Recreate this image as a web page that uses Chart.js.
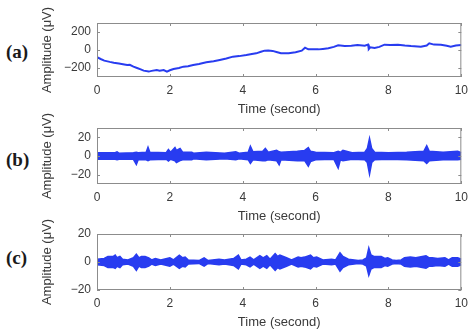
<!DOCTYPE html>
<html>
<head>
<meta charset="utf-8">
<script src="https://cdn.jsdelivr.net/npm/chart.js@4.4.1/dist/chart.umd.min.js"></script>
<style>
  body { margin: 0; background: #fff; width: 474px; height: 333px; overflow: hidden; position: relative; }
  canvas { position: absolute; left: 0; }
  .tag { position: absolute; left: 6px; font: 600 19px "Liberation Serif", serif; color: #1a1a1a; }
</style>
</head>
<body>
<div class="tag" style="top:41px">(a)</div>
<div class="tag" style="top:149px">(b)</div>
<div class="tag" style="top:247px">(c)</div>
<canvas id="CHART_A" width="474" height="120" style="top:0px"></canvas>
<canvas id="CHART_B" width="474" height="122" style="top:105px"></canvas>
<canvas id="CHART_C" width="474" height="122" style="top:211px"></canvas>
<script>
// tick labels and ranges
const xTicks = [0, 2, 4, 6, 8, 10];
const aTicks = [-200, 0, 200];
const bTicks = [-20, 0, 20];
const cTicks = [-20, 0, 20];
const aRange = [-300, 300];
const bRange = [-30, 30];
const cRange = [-20, 20];

// (a) raw signal, slow drift (µV)
const aTime = [0, 0.1, 0.2, 0.35, 0.46, 0.6, 0.75, 0.83, 0.9, 1.0, 1.1, 1.2, 1.28, 1.42, 1.5, 1.64, 1.72, 1.83, 1.92, 2.0,
  2.1, 2.25, 2.37, 2.5, 2.64, 2.8, 3.0, 3.2, 3.37, 3.55, 3.73, 3.9, 4.1, 4.25, 4.37, 4.5, 4.6, 4.7, 4.82, 4.95,
  5.05, 5.26, 5.45, 5.62, 5.71, 5.8, 6.08, 6.2, 6.35, 6.5, 6.62, 6.8, 6.98, 7.15, 7.35, 7.44, 7.46, 7.5, 7.62, 7.75,
  7.89, 8.05, 8.26, 8.45, 8.62, 8.89, 9.05, 9.12, 9.25, 9.44, 9.6, 9.71, 9.85, 10.0];
const aValue = [-80, -100, -118, -132, -141, -150, -160, -167, -165, -185, -200, -215, -229, -240, -232, -222, -230, -222, -240, -225,
  -211, -200, -185, -180, -167, -155, -137, -125, -111, -95, -74, -68, -56, -45, -37, -20, -7, -5, -10, -25,
  -37, -37, -25, -7, 26, 7, 7, 12, 19, 35, 52, 45, 48, 55, 48, 60, 11, 30, 22, 35,
  59, 55, 59, 50, 44, 37, 50, 74, 60, 59, 48, 37, 50, 55];

// (b) envelope of the filtered signal (µV)
const bTime = [0, 0.5, 0.55, 0.6, 1.0, 1.08, 1.13, 1.35, 1.4, 1.45, 1.9, 1.96, 2.02, 2.14, 2.18, 2.28, 2.35, 2.6, 2.65, 3.0,
  3.5, 3.81, 3.9, 4.15, 4.21, 4.28, 4.55, 4.62, 4.7, 4.93, 5.0, 5.05, 5.5, 5.7, 5.8, 5.86, 6.0, 6.5, 6.62, 6.68,
  6.75, 7.0, 7.35, 7.42, 7.48, 7.54, 7.62, 8.0, 8.5, 8.97, 9.05, 9.12, 9.5, 9.9, 10.0];
const bUpper = [3.5, 3.5, 4.5, 3, 3.5, 4, 3.5, 4, 9.5, 4, 3.5, 7, 4, 9, 6, 8, 4, 4, 3, 4,
  3, 4.5, 3, 4, 10.5, 4.5, 5, 8, 4, 6, 4.5, 4, 5, 6, 9, 5, 4, 3.5, 5, 4,
  6, 3.5, 4, 8, 19, 8, 4, 3.5, 4, 5, 11, 5, 4, 5, 3.5];
const bLower = [-3.5, -3.5, -4, -3.5, -3.5, -9, -4, -4, -5, -4, -3.5, -5.5, -3.5, -5, -7, -5, -4, -4, -3, -4,
  -3, -4, -3, -4, -8, -4, -5, -5, -4, -5, -9.5, -4, -5, -5, -11, -6, -4, -3.5, -13, -4,
  -5, -3.5, -4, -7, -19.5, -7, -4, -3.5, -4, -5, -8, -5, -4, -4, -3.5];

// (c) envelope of the cleaned signal (µV)
const cTime = [0, 0.2, 0.3, 0.45, 0.5, 0.55, 0.63, 0.7, 0.85, 1.0, 1.08, 1.15, 1.22, 1.32, 1.42, 1.5, 1.6, 1.75, 2.0, 2.1,
  2.26, 2.35, 2.42, 2.5, 2.8, 2.94, 3.05, 3.35, 3.5, 3.75, 3.88, 3.95, 4.1, 4.2, 4.3, 4.47, 4.56, 4.66, 4.75, 4.89,
  4.96, 5.02, 5.2, 5.34, 5.52, 5.6, 5.7, 5.86, 5.94, 6.03, 6.2, 6.44, 6.55, 6.67, 6.75, 6.9, 7.17, 7.3, 7.4, 7.46,
  7.52, 7.6, 7.8, 7.9, 7.98, 8.1, 8.21, 8.35, 8.44, 8.6, 8.75, 9.03, 9.12, 9.2, 9.35, 9.55, 9.65, 9.75, 9.9, 10.0];
const cUpper = [2, 2.5, 4, 4, 5, 3, 4, 2, 1.5, 3, 5.5, 3, 4, 4, 3, 1.5, 2.5, 1.5, 3, 1.5,
  4.8, 3, 3.5, 1.5, 1, 3, 1, 2, 1.5, 2.5, 5, 1.5, 2, 3.5, 1.5, 4.5, 3, 4.5, 2, 6,
  4, 5, 3, 1.5, 3.5, 3, 3.5, 5, 3, 3.5, 1.5, 2, 1.5, 6.5, 4, 2, 1, 1.5, 3, 10,
  5, 4, 4, 2.5, 3, 1.5, 1, 1.5, 3, 3.5, 3, 4.5, 3, 3, 2.5, 3, 1.5, 3, 3, 2];
const cLower = [-2, -2.5, -4, -4, -4.5, -3, -4, -2, -1.5, -3, -6, -3, -4, -4, -3, -1.5, -2.5, -1.5, -3, -1.5,
  -4.5, -3, -3.5, -1.5, -1, -3, -1, -2, -1.5, -2.5, -5, -1.5, -2, -3.5, -1.5, -4.5, -3, -4.5, -2, -6,
  -4, -5, -3, -1.5, -3.5, -3, -3.5, -5, -3, -3.5, -1.5, -2, -1.5, -6.5, -4, -2, -1, -1.5, -3, -9.5,
  -5, -4, -4, -2.5, -3, -1.5, -1, -1.5, -3, -3.5, -3, -4.5, -3, -3, -2.5, -3, -1.5, -3, -3, -2];

const BLUE = 'rgb(40, 60, 240)';
const TEXT = '#3a3a3a';
const FONT = "'Liberation Sans', Arial, sans-serif";

function pts(t, v) {
    return t.map((x, i) => ({x: x, y: v[i]}));
}

// matlab style box with inward ticks
const boxPlugin = {
    id: 'box',
    afterDraw(chart) {
        const {ctx, chartArea: a, scales: {x, y}} = chart;
        ctx.save();
        ctx.strokeStyle = '#8c8c8c';
        ctx.lineWidth = 1;
        ctx.strokeRect(a.left + 0.5, a.top + 0.5, a.right - a.left - 1, a.bottom - a.top - 1);
        ctx.beginPath();
        x.ticks.forEach(t => {
            const px = Math.round(x.getPixelForValue(t.value)) + 0.5;
            ctx.moveTo(px, a.bottom); ctx.lineTo(px, a.bottom - 3);
            ctx.moveTo(px, a.top); ctx.lineTo(px, a.top + 3);
        });
        y.ticks.forEach(t => {
            const py = Math.round(y.getPixelForValue(t.value)) + 0.5;
            ctx.moveTo(a.left, py); ctx.lineTo(a.left + 3, py);
            ctx.moveTo(a.right, py); ctx.lineTo(a.right - 3, py);
        });
        ctx.stroke();
        ctx.restore();
    }
};

function define(id, datasets, range, yTicks) {
    let ctx = document.getElementById(id);
    return new Chart(ctx, {
        type: 'line',
        data: {datasets: datasets},
        options: {
            responsive: false,
            animation: false,
            layout: {padding: {top: 23, left: 40, right: 10, bottom: 3}},
            elements: {point: {radius: 0}, line: {tension: 0}},
            scales: {
                x: {
                    type: 'linear',
                    min: 0,
                    max: 10,
                    afterBuildTicks: s => { s.ticks = xTicks.map(v => ({value: v})); },
                    afterFit: s => { s.height = 40; },
                    grid: {display: false, drawTicks: false},
                    border: {display: false},
                    ticks: {padding: 6, color: TEXT, font: {family: FONT, size: 12}},
                    title: {display: true, text: 'Time (second)', padding: 0, color: TEXT,
                        font: {family: FONT, size: 13}}
                },
                y: {
                    min: range[0],
                    max: range[1],
                    afterBuildTicks: s => { s.ticks = yTicks.map(v => ({value: v})); },
                    afterFit: s => { s.width = 57; },
                    grid: {display: false, drawTicks: false},
                    border: {display: false},
                    ticks: {padding: 6, color: TEXT, font: {family: FONT, size: 12},
                        callback: v => v < 0 ? '\u2212' + Math.abs(v) : String(v)},
                    title: {display: true, text: 'Amplitude (\u03bcV)', padding: 0, color: TEXT,
                        font: {family: FONT, size: 13}}
                }
            },
            plugins: {legend: {display: false}, tooltip: {enabled: false}}
        },
        plugins: [boxPlugin]
    });
}

function band(t, up, low) {
    return [
        {data: pts(t, up), borderColor: BLUE, borderWidth: 1.5, backgroundColor: BLUE, fill: '+1'},
        {data: pts(t, low), borderColor: BLUE, borderWidth: 1.5, fill: false}
    ];
}

define('CHART_A', [{data: pts(aTime, aValue), borderColor: BLUE, borderWidth: 2, fill: false}], aRange, aTicks);
define('CHART_B', band(bTime, bUpper, bLower), bRange, bTicks);
define('CHART_C', band(cTime, cUpper, cLower), cRange, cTicks);
</script>
</body>
</html>
